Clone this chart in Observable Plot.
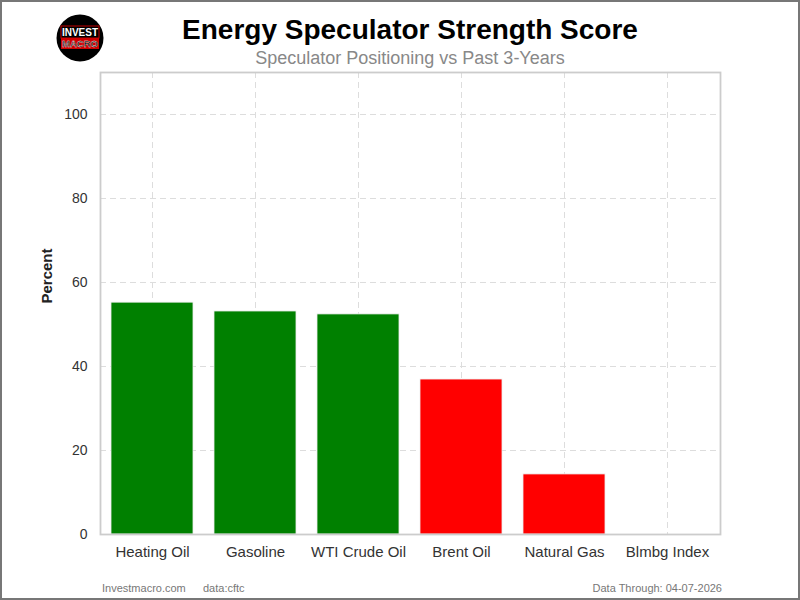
<!DOCTYPE html>
<html>
<head>
<meta charset="utf-8">
<script src="https://cdn.jsdelivr.net/npm/d3@7"></script>
<script src="https://cdn.jsdelivr.net/npm/@observablehq/plot@0.6"></script>
<style>
  html, body { margin: 0; padding: 0; background: #fff; }
  #wrap { position: relative; width: 800px; height: 600px; box-sizing: border-box; border: 2px solid #777; overflow: hidden; font-family: "Liberation Sans", Arial, sans-serif; background: #fff; }
  #chart { position: absolute; left: -2px; top: -2px; width: 800px; height: 600px; }
  #chart svg { max-width: none !important; width: 800px; height: 600px; display: block; }
  .t { position: absolute; white-space: nowrap; }
  #title { left: 0; width: 816px; text-align: center; top: 12px; font-size: 28px; font-weight: bold; color: #000; }
  #subtitle { left: 0; width: 816px; text-align: center; top: 46px; font-size: 18px; color: #888; }
  .foot { top: 580px; font-size: 11px; color: #777; }
  #logo { position: absolute; left: 54px; top: 12px; }
</style>
</head>
<body>
<div id="wrap">
  <div id="chart"></div>
  <div id="title" class="t">Energy Speculator Strength Score</div>
  <div id="subtitle" class="t">Speculator Positioning vs Past 3-Years</div>
  <svg id="logo" width="48" height="48" viewBox="0 0 48 48">
    <circle cx="24" cy="24" r="23.5" fill="#000"/>
    <rect x="5" y="12" width="38" height="12" fill="none" stroke="#c00000" stroke-width="1"/>
    <text x="24" y="22" text-anchor="middle" font-family="Liberation Sans, Arial" font-weight="bold" font-size="10" fill="#fff">INVEST</text>
    <rect x="5" y="24" width="38" height="11" fill="#d00000"/>
    <text x="24" y="33" text-anchor="middle" font-family="Liberation Sans, Arial" font-weight="bold" font-size="9.5" fill="#000" stroke="#fff" stroke-width="0.3">MACRO</text>
  </svg>
  <div class="t foot" style="left:100px;">Investmacro.com</div>
  <div class="t foot" style="left:201px;">data:cftc</div>
  <div class="t foot" style="right:76px;">Data Through: 04-07-2026</div>
</div>
<script>
const categories = ["Heating Oil", "Gasoline", "WTI Crude Oil", "Brent Oil", "Natural Gas", "Blmbg Index"];
const values = [55.2, 53.1, 52.4, 36.9, 14.3, 0];
const barColors = ["#008000", "#008000", "#008000", "#ff0000", "#ff0000", "#ff0000"];
const yTicks = [0, 20, 40, 60, 80, 100];

const data = categories.map((c, i) => ({category: c, value: values[i], color: barColors[i]}));

const chart = Plot.plot({
  width: 800,
  height: 600,
  marginLeft: 100,
  marginRight: 80,
  marginTop: 72,
  marginBottom: 66,
  style: {fontFamily: "Liberation Sans, Arial, sans-serif", fontSize: "14px", color: "#333", background: "transparent"},
  x: {domain: categories, paddingInner: 0.2, paddingOuter: 0.1, label: null},
  y: {domain: [0, 110], ticks: yTicks, label: null},
  marks: [
    Plot.gridY(yTicks, {stroke: "#ddd", strokeOpacity: 1, strokeDasharray: "6,4", strokeWidth: 1}),
    Plot.gridX(categories, {stroke: "#ddd", strokeOpacity: 1, strokeDasharray: "6,4", strokeWidth: 1}),
    Plot.barY(data, {x: "category", y: "value", fill: "color", stroke: "#eee", strokeWidth: 0.8}),
    Plot.frame({stroke: "#ccc", strokeWidth: 1.8}),
    Plot.axisX({tickSize: 0, tickPadding: 12, fontSize: 15, label: null}),
    Plot.axisY(yTicks, {tickSize: 0, tickPadding: 13, fontSize: 14, label: null}),
    Plot.text(["Percent"], {frameAnchor: "left", dx: -53, rotate: -90, fontWeight: "bold", fontSize: 15, fill: "#222"})
  ]
});
document.getElementById("chart").appendChild(chart);
</script>
</body>
</html>
